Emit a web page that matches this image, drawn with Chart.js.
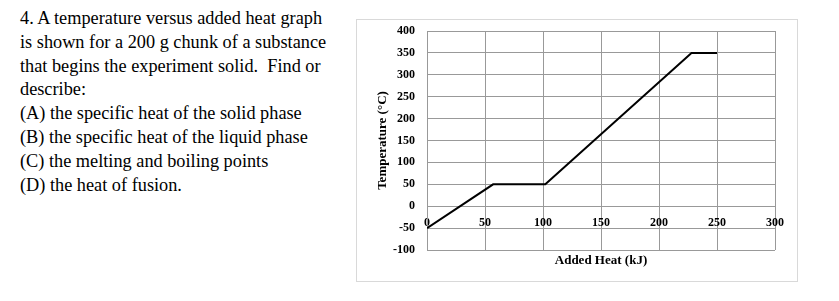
<!DOCTYPE html>
<html>
<head>
<meta charset="utf-8">
<script src="https://cdn.jsdelivr.net/npm/chart.js@4/dist/chart.umd.min.js"></script>
<style>
  html, body { margin: 0; padding: 0; background: #fff; }
  body { width: 839px; height: 301px; position: relative; overflow: hidden; }
  #q { position: absolute; left: 20px; top: 7px; font-family: "Liberation Serif", "Times New Roman", serif;
       font-size: 18.3px; line-height: 23.8px; color: #000; white-space: nowrap; }
  #box { position: absolute; left: 356px; top: 19px; width: 442px; height: 263px; border: 1px solid #d9d9d9; box-sizing: border-box; }
  #wrap { position: absolute; left: 356px; top: 19px; width: 442px; height: 263px; }
</style>
</head>
<body>
<div id="q">4. A temperature versus added heat graph<br>is shown for a 200 g chunk of a substance<br>that begins the experiment solid.&nbsp; Find or<br>describe:<br>(A) the specific heat of the solid phase<br>(B) the specific heat of the liquid phase<br>(C) the melting and boiling points<br>(D) the heat of fusion.</div>
<div id="box"></div>
<div id="wrap"><canvas id="c" width="442" height="263"></canvas></div>
<script>
const heat = [0, 57, 102, 228, 250];
const temperature = [-50, 50, 50, 350, 350];
const xTicks = [0, 50, 100, 150, 200, 250, 300];
const yTicks = [-100, -50, 0, 50, 100, 150, 200, 250, 300, 350, 400];
const xTitle = 'Added Heat (kJ)';
const yTitle = 'Temperature (°C)';

const gridColor = '#999999';
const serif = '"Liberation Serif", "Times New Roman", serif';

new Chart(document.getElementById('c'), {
  type: 'line',
  data: {
    datasets: [{
      data: heat.map((h, i) => ({ x: h, y: temperature[i] })),
      borderColor: '#000000',
      borderWidth: 2,
      pointRadius: 0,
      tension: 0,
      fill: false
    }]
  },
  options: {
    responsive: false,
    animation: false,
    devicePixelRatio: 1,
    layout: { padding: { left: 16, top: 12, right: 23, bottom: 0 } },
    plugins: { legend: { display: false }, tooltip: { enabled: false } },
    scales: {
      x: {
        type: 'linear',
        position: { y: 0 },
        min: xTicks[0], max: xTicks[xTicks.length - 1],
        afterBuildTicks: s => { s.ticks = xTicks.map(v => ({ value: v })); },
        afterFit: s => { s.height = 0; },
        grid: { color: gridColor, drawTicks: false },
        border: { color: gridColor },
        ticks: { color: '#000', padding: 10, font: { family: serif, size: 12, weight: 'bold' } }
      },
      x2: {
        type: 'linear',
        position: 'bottom',
        min: 0, max: 300,
        grid: { display: false },
        border: { display: false },
        ticks: { display: false },
        afterFit: s => { s.height = 32; },
        title: { display: true, text: xTitle, color: '#000', padding: { top: 14, bottom: 14 }, font: { family: serif, size: 13, weight: 'bold' } }
      },
      y: {
        type: 'linear',
        position: 'left',
        min: yTicks[0], max: yTicks[yTicks.length - 1],
        afterBuildTicks: s => { s.ticks = yTicks.map(v => ({ value: v })); },
        afterFit: s => { s.width = 55; },
        grid: { color: gridColor, drawTicks: true, tickLength: 12, tickColor: 'rgba(0,0,0,0)' },
        border: { color: gridColor },
        ticks: { color: '#000', padding: 0, font: { family: serif, size: 12, weight: 'bold' } },
        title: { display: true, text: yTitle, color: '#000', padding: { top: 3, bottom: 3 }, font: { family: serif, size: 13, weight: 'bold' } }
      }
    }
  }
});
</script>
</body>
</html>
